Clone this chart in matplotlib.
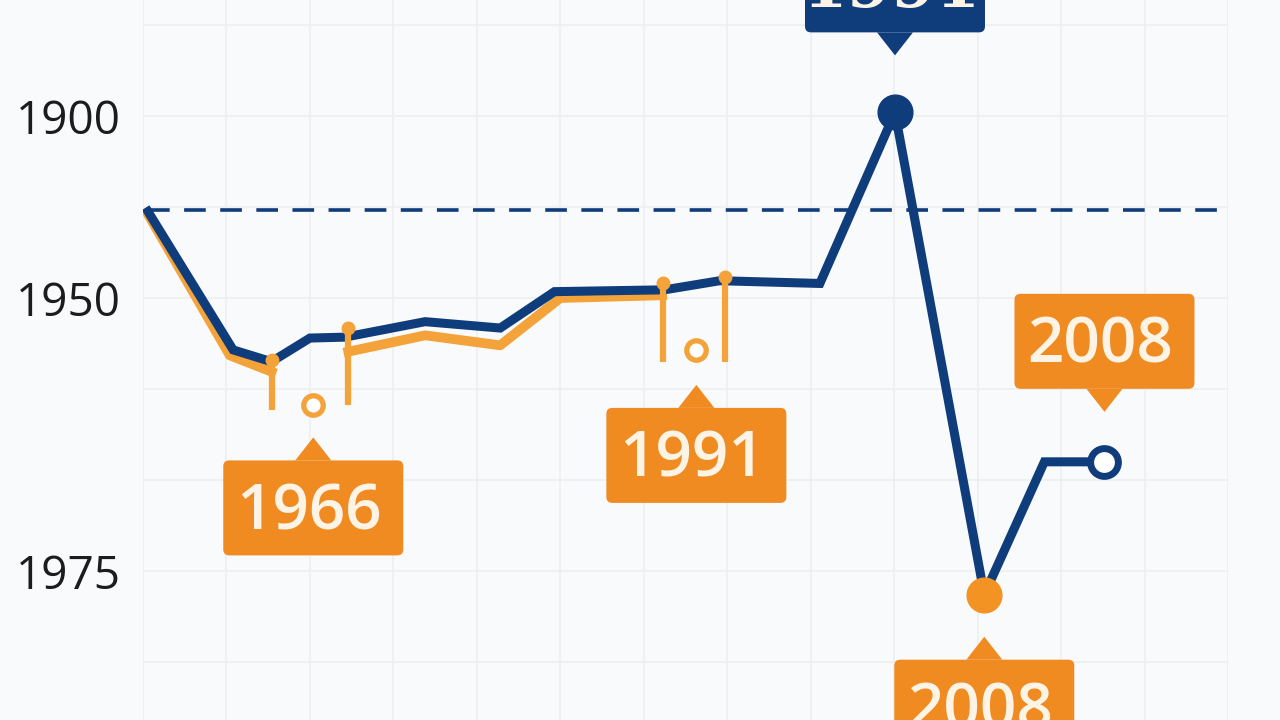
import numpy as np
import matplotlib
matplotlib.use('Agg')
import matplotlib.pyplot as plt
from matplotlib.patches import FancyBboxPatch, Polygon
from matplotlib.transforms import IdentityTransform

# values on the chart's own (grid-step) scale; y grows downward
blue_x = [0.06, 1.08, 1.54, 2.00, 2.42, 3.38, 4.28, 4.93, 6.25, 6.91, 8.11, 9.01, 10.08, 10.80, 11.52]
blue_y = [2.05, 3.57, 3.70, 3.44, 3.43, 3.26, 3.33, 2.93, 2.91, 2.81, 2.84, 0.96, 6.26, 4.80, 4.80]

orange_x = [0.06, 1.04, 1.54, np.nan, 2.46, 3.38, 4.28, 5.00, 6.22]
orange_y = [2.08, 3.63, 3.81, np.nan, 3.59, 3.41, 3.52, 3.00, 2.97]

stem_x = [1.54, 2.46, 6.23, 6.97]
stem_top = [3.68, 3.33, 2.84, 2.77]
stem_bottom = [4.23, 4.18, 3.70, 3.70]
ring_x = [2.04, 6.63]
ring_y = [4.18, 3.57]

ref_level = 2.03
ytick_pos = [1, 3, 6]
ytick_labels = ['1900', '1950', '1975']

navy = '#0f3c7b'
orange_line = '#f4a23a'
orange_box = '#f08b22'
bg = '#f9fafb'

fig = plt.figure(figsize=(12.8, 7.2), dpi=100, facecolor=bg)
ax = fig.add_axes([143 / 1280, 0, (1228 - 143) / 1280, 1])
ax.set_facecolor(bg)
ax.set_xlim(0, 13)
ax.set_ylim(7.637, -0.2747)
for s in ax.spines.values():
    s.set_visible(False)

ax.set_xticks(range(14))
ax.set_xticklabels([])
ax.set_yticks(range(8))
ax.set_yticklabels([ytick_labels[ytick_pos.index(i)] if i in ytick_pos else '' for i in range(8)],
                   fontfamily='Open Sans', fontsize=33, color='#1c1c1c')
ax.tick_params(length=0, pad=16)
ax.grid(True, color='#eceef1', lw=1.2)
ax.set_axisbelow(True)

ax.plot([blue_x[0], 12.9], [ref_level, ref_level], color=navy, lw=2.6, ls=(0, (6, 4)), zorder=2)

ax.plot(orange_x, orange_y, color=orange_line, lw=7, solid_joinstyle='round', zorder=3)
ax.vlines(stem_x, stem_top, stem_bottom, color=orange_line, lw=4.5, zorder=5)
ax.plot(stem_x, stem_top, 'o', color=orange_line, ms=9, zorder=6)
ax.plot(ring_x, ring_y, 'o', mfc='white', mec=orange_line, mew=3.8, ms=14, zorder=5)

ax.plot(blue_x, blue_y, color=navy, lw=6.5, solid_joinstyle='miter', zorder=4)
ax.plot(blue_x[11], blue_y[11], 'o', color=navy, ms=25, zorder=6)
ax.plot(blue_x[12], blue_y[12], 'o', color='#f39324', ms=25, zorder=6)
ax.plot(blue_x[-1], blue_y[-1], 'o', mfc='white', mec=navy, mew=5, ms=20, zorder=6)


def callout(x, y, label, fc, gap, below=True, w=180, h=95, tip=23, family='Open Sans', weight='semibold'):
    fig.canvas.draw()
    px, py = ax.transData.transform((x, y))
    if below:
        apex = py - gap
        edge = apex - tip
        y0 = edge - h
    else:
        apex = py + gap
        edge = apex + tip
        y0 = edge
    box = FancyBboxPatch((px - w / 2 + 6, y0 + 6), w - 12, h - 12,
                         boxstyle='round,pad=6', fc=fc, ec='none',
                         transform=IdentityTransform(), clip_on=False, zorder=7)
    fig.patches.append(box)
    tri = Polygon([(px, apex), (px - 18, edge), (px + 18, edge)], closed=True,
                  fc=fc, ec='none', transform=IdentityTransform(), clip_on=False, zorder=7)
    fig.patches.append(tri)
    fig.text((px - 4) / 1280, (y0 + h / 2 - 5) / 720, label, ha='center', va='center',
             fontsize=46, color='#fdf4e6', fontfamily=family, fontweight=weight, zorder=8)


callout(ring_x[0], ring_y[0], '1966', orange_box, 32, below=True)
callout(ring_x[1], ring_y[1], '1991', orange_box, 35, below=True)
callout(blue_x[-1], blue_y[-1], '2008', orange_box, 50, below=False)
callout(blue_x[12], blue_y[12], '2008', orange_box, 42, below=True)
callout(blue_x[11], blue_y[11], '1991', navy, 57, below=False, family='DejaVu Serif', weight='bold')

fig.savefig('out.png', dpi=100, facecolor=bg)
